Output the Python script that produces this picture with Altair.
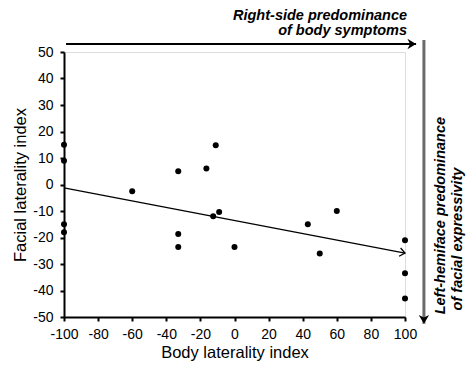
import altair as alt
import pandas as pd

# Scatter data: body laterality index vs facial laterality index
body_idx = [-100, -100, -100, -100, -60, -33, -33, -33, -16.5, -11, -12.5, -9, 0, 43, 60, 50, 100, 100, 100]
face_idx = [15, 9, -15, -18, -2.5, 5, -18.7, -23.6, 6, 14.8, -12, -10.4, -23.6, -15, -10, -26, -21, -33.5, -43]

# Regression line endpoints
fit_x = [-100, 100]
fit_y = [-1.3, -25.9]

# Annotation arrows (data coordinates, outside plot domain)
top_arrow_x = [-98.8, 106.5]
top_arrow_y = [53.0, 53.0]
side_arrow_x = [111.1, 111.1]
side_arrow_y = [54.5, -52.5]

top_text = ["Right-side predominance", "of body symptoms"]
top_text_x = [101.2, 101.2]
top_text_y = [63.6, 57.9]

side_text = ["Left-hemiface predominance", "of facial expressivity"]
side_text_x = [121.2, 131.2]
side_text_y = [-49.0, -47.5]

FONT = "Liberation Sans"
xs = alt.Scale(domain=[-100, 100])
ys = alt.Scale(domain=[-50, 50])

pts = pd.DataFrame({"x": body_idx, "y": face_idx})
fit = pd.DataFrame({"x": fit_x, "y": fit_y})
top_arrow = pd.DataFrame({"x": top_arrow_x, "y": top_arrow_y})
side_arrow = pd.DataFrame({"x": side_arrow_x, "y": side_arrow_y})
ttext = pd.DataFrame({"x": top_text_x, "y": top_text_y, "t": top_text})
stext = pd.DataFrame({"x": side_text_x, "y": side_text_y, "t": side_text})

x_axis = alt.Axis(values=list(range(-100, 101, 20)), title="Body laterality index",
                  labelExpr="'' + datum.value",
                  labelFontSize=14, titleFontSize=16.5, titleFontWeight="normal",
                  labelFont=FONT, titleFont=FONT, labelColor="black", titleColor="black",
                  domainColor="black", domainWidth=2, tickColor="black", tickWidth=2,
                  tickSize=4, labelPadding=6, titlePadding=3, grid=False, labelFlush=False)
y_axis = alt.Axis(values=list(range(-50, 51, 10)), title="Facial laterality index",
                  labelExpr="'' + datum.value",
                  labelFontSize=14, titleFontSize=16.5, titleFontWeight="normal",
                  labelFont=FONT, titleFont=FONT, labelColor="black", titleColor="black",
                  domainColor="black", domainWidth=2, tickColor="black", tickWidth=2,
                  tickSize=4, labelPadding=7, titlePadding=4, grid=False, labelFlush=False)

def X():
    return alt.X("x:Q", scale=xs, axis=x_axis)

def Y():
    return alt.Y("y:Q", scale=ys, axis=y_axis)

points = alt.Chart(pts).mark_circle(size=36, color="black", opacity=1).encode(x=X(), y=Y())

fit_line = alt.Chart(fit).mark_line(color="black", strokeWidth=1.3, clip=False).encode(x=X(), y=Y())
fit_head = alt.Chart(fit.iloc[[1]]).mark_point(
    shape="M-1,-0.8L0,0L-1,0.8", size=110, filled=False, stroke="black", strokeWidth=1.3,
    angle=10.8, clip=False, opacity=1).encode(x=X(), y=Y())

top_line = alt.Chart(top_arrow).mark_line(color="black", strokeWidth=2, clip=False).encode(x=X(), y=Y())
top_head = alt.Chart(top_arrow.iloc[[1]]).mark_point(
    shape="M-1,-0.6L0,0L-1,0.6L-0.7,0Z", size=300, filled=True, color="black",
    clip=False, opacity=1).encode(x=X(), y=Y())

side_line = alt.Chart(side_arrow).mark_line(color="#6b6b6b", strokeWidth=3, clip=False).encode(x=X(), y=Y())
side_head = alt.Chart(side_arrow.iloc[[1]]).mark_point(
    shape="M-1,-0.6L0,0L-1,0.6L-0.7,0Z", size=300, filled=True, color="black",
    angle=90, clip=False, opacity=1).encode(x=X(), y=Y())

t_top = alt.Chart(ttext).mark_text(font=FONT, fontSize=14.5, fontWeight="bold", fontStyle="italic",
                                   align="right", baseline="middle", color="black", clip=False).encode(
    x=X(), y=Y(), text="t:N")
t_side = alt.Chart(stext).mark_text(font=FONT, fontSize=14.5, fontWeight="bold", fontStyle="italic",
                                    align="left", baseline="middle", angle=270, color="black", clip=False).encode(
    x=X(), y=Y(), text="t:N")

chart = alt.layer(side_line, side_head, top_line, top_head, fit_line, fit_head, points, t_top, t_side).properties(
    width=341, height=265,
    autosize=alt.AutoSizeParams(type="none"),
    padding={"left": 56, "top": 44, "right": 61, "bottom": 44},
).configure_view(stroke="transparent", strokeWidth=0).configure(background="white")

chart.save("out.html", embed_options={"renderer": "svg", "actions": False})
